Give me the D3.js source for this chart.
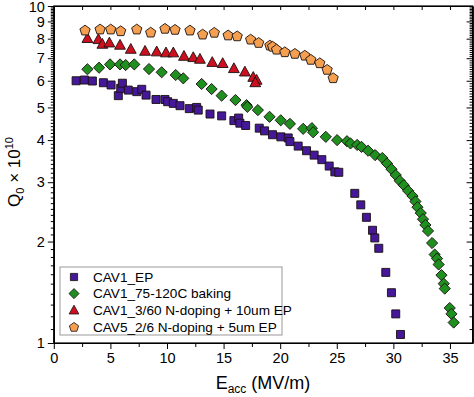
<!DOCTYPE html>
<html><head><meta charset="utf-8">
<script src="https://cdn.jsdelivr.net/npm/d3@7"></script>
<style>body{margin:0;background:#fff;} svg{display:block;font-family:"Liberation Sans",Arial,sans-serif;}</style>
</head><body><svg id="c" width="474" height="397"></svg>
<script>
// Data: [Eacc (MV/m), Q0 (x1e10)]
const cav1EP = [[1.97,6.0],[2.7,6.03],[3.41,5.99],[4.38,5.92],[5.06,5.83],[5.7,5.42],[5.91,5.70],[6.06,5.9],[6.58,5.63],[7.33,5.57],[7.77,5.66],[8.15,5.44],[9.03,5.28],[9.82,5.28],[10.06,5.2],[10.56,5.14],[11.15,5.06],[11.97,4.96],[12.62,5.0],[12.76,4.91],[13.8,4.78],[14.83,4.72],[15.91,4.57],[16.33,4.65],[16.44,4.49],[16.95,4.42],[18.15,4.34],[18.62,4.26],[19.32,4.15],[20.06,4.09],[20.71,4.06],[20.86,3.96],[21.59,3.84],[22.33,3.72],[23.0,3.61],[23.68,3.5],[24.33,3.35],[24.83,3.22],[25.18,3.21],[26.59,2.78],[27.12,2.57],[27.62,2.36],[28.16,2.16],[28.36,2.05],[28.71,1.91],[29.33,1.62],[29.83,1.41],[30.21,1.22],[30.63,1.06]];
const cav1Bake = [[2.97,6.49],[4.0,6.56],[4.97,6.71],[5.85,6.71],[6.35,6.68],[7.11,6.71],[8.41,6.5],[9.53,6.36],[10.77,6.24],[11.44,6.1],[13.06,5.87],[13.94,5.67],[14.83,5.42],[16.05,5.26],[17.03,5.08],[17.1,5.02],[18.03,4.91],[19.06,4.69],[20.05,4.58],[20.86,4.47],[22.03,4.32],[22.8,4.34],[22.91,4.22],[24.03,4.09],[25.03,4.0],[25.9,3.97],[26.21,3.91],[26.8,3.87],[27.18,3.82],[27.77,3.72],[28.39,3.61],[29.02,3.54],[29.44,3.41],[29.83,3.28],[30.21,3.15],[30.56,3.03],[30.92,2.94],[31.3,2.83],[31.69,2.73],[31.95,2.63],[32.13,2.53],[32.42,2.43],[32.62,2.33],[32.83,2.24],[33.06,2.15],[33.42,1.98],[33.65,1.83],[33.86,1.78],[34.0,1.71],[34.25,1.59],[34.45,1.50],[34.54,1.45],[34.98,1.27],[35.13,1.22],[35.33,1.15]];
const cav1Ndope = [[2.97,8.02],[3.94,7.96],[4.29,7.71],[4.91,7.78],[5.85,7.66],[6.8,7.45],[8.06,7.35],[9.09,7.32],[9.91,7.27],[10.56,7.27],[11.5,7.1],[12.32,7.04],[12.91,6.96],[14.0,6.81],[14.92,6.76],[15.91,6.53],[16.88,6.38],[17.62,6.15],[17.92,6.03],[17.8,5.93]];
const cav5Ndope = [[2.76,8.49],[4.09,8.55],[5.03,8.55],[5.91,8.45],[7.33,8.55],[8.56,8.37],[9.82,8.59],[10.71,8.53],[12.03,8.49],[13.15,8.26],[14.18,8.36],[15.4,8.21],[16.2,8.16],[17.39,7.98],[18.1,7.8],[19.09,7.66],[19.33,7.6],[19.68,7.45],[20.41,7.32],[21.3,7.24],[22.18,7.15],[22.71,6.95],[23.5,6.79],[24.15,6.49],[24.68,6.13]];
const seriesNames = ["CAV1_EP","CAV1_75-120C baking","CAV1_3/60 N-doping + 10um EP","CAV5_2/6 N-doping + 5um EP"];
const seriesColors = ["#45189a","#1f8f1f","#cc1020","#f5a050"];
const seriesShapes = ["square","diamond","triangle","pentagon"];
const xTicks = [0,5,10,15,20,25,30,35];
const yTicks = [1,2,3,4,5,6,7,8,9,10];

const svg = d3.select("#c");
const L=53.8, R=472.6, T=6, B=343;
const x = d3.scaleLinear().domain([0,37]).range([L,R]);
const y = d3.scaleLog().domain([1,10]).range([B,T]);

function shapePath(kind){
  if(kind==="square") return "M-4,-4H4V4H-4Z";
  if(kind==="diamond") return "M0,-5.6L5.6,0L0,5.6L-5.6,0Z";
  if(kind==="triangle") return "M0,-5.6L5.4,4.2L-5.4,4.2Z";
  const pts=d3.range(5).map(i=>{const a=-Math.PI/2+i*2*Math.PI/5;return [5.4*Math.cos(a),5.4*Math.sin(a)+0.6];});
  return d3.line()(pts)+"Z";
}

// frame
svg.append("rect").attr("x",L).attr("y",T).attr("width",R-L).attr("height",B-T).attr("fill","none").attr("stroke","#000").attr("stroke-width",1.2);

// axes
const minorY=[];
for(let d=1; d<10; d++){ for(let k=1;k<10;k++){ minorY.push(+(d+k*0.1).toFixed(2)); } }
const minorYv = minorY.filter(v=>v<10 && !yTicks.includes(v));
function minor(g){ g.selectAll(".tick text").remove(); }
svg.append("g").attr("transform",`translate(0,${B})`)
  .call(d3.axisBottom(x).tickValues(xTicks).tickSize(6).tickSizeOuter(0).tickPadding(4));
svg.append("g").attr("transform",`translate(0,${B})`)
  .call(d3.axisBottom(x).tickValues(d3.range(2.5,37,5)).tickSize(4).tickFormat("").tickSizeOuter(0)).call(minor);
const gL = svg.append("g").attr("transform",`translate(${L},0)`)
  .call(d3.axisLeft(y).tickValues(yTicks).tickFormat(d3.format("d")).tickSize(6).tickSizeOuter(0).tickPadding(3));
svg.append("g").attr("transform",`translate(${L},0)`)
  .call(d3.axisLeft(y).tickValues(minorYv).tickFormat("").tickSize(3).tickSizeOuter(0)).call(minor);
// mirrored inner ticks
svg.append("g").attr("transform",`translate(0,${T})`)
  .call(d3.axisBottom(x).tickValues(d3.range(0,37,2.5)).tickFormat("").tickSize(4).tickSizeOuter(0)).call(minor);
svg.append("g").attr("transform",`translate(${R},0)`)
  .call(d3.axisLeft(y).tickValues(yTicks).tickFormat("").tickSize(6).tickSizeOuter(0)).call(minor);
svg.append("g").attr("transform",`translate(${R},0)`)
  .call(d3.axisLeft(y).tickValues(minorYv).tickFormat("").tickSize(3).tickSizeOuter(0)).call(minor);
svg.selectAll(".domain").attr("stroke","#000").attr("stroke-width",1.2);
svg.selectAll(".tick line").attr("stroke","#000");
svg.selectAll(".tick text").attr("font-size",14.5).attr("fill","#000").attr("font-family","Liberation Sans, Arial, sans-serif");
gL.selectAll(".tick text").filter(d=>d===10).attr("dy","0.38em");

// axis titles
const xt = svg.append("text").attr("x",263).attr("y",389).attr("text-anchor","middle").attr("font-size",18).attr("fill","#000");
xt.append("tspan").text("E");
xt.append("tspan").attr("font-size",12).attr("dy",4).text("acc");
xt.append("tspan").attr("dy",-4).text(" (MV/m)");
const yt = svg.append("text").attr("transform","translate(20,172) rotate(-90)").attr("text-anchor","middle").attr("font-size",17).attr("fill","#000");
yt.append("tspan").text("Q");
yt.append("tspan").attr("font-size",11).attr("dy",4).text("0");
yt.append("tspan").attr("dy",-4).text(" × 10");
yt.append("tspan").attr("font-size",11).attr("dy",-7).text("10");

// data
const allSeries=[cav1EP,cav1Bake,cav1Ndope,cav5Ndope];
allSeries.forEach((data,i)=>{
  svg.append("g").selectAll("path").data(data).join("path")
    .attr("d",shapePath(seriesShapes[i]))
    .attr("transform",d=>`translate(${x(d[0])},${y(d[1])})`)
    .attr("fill",seriesColors[i]).attr("stroke","#1a1010").attr("stroke-width",0.9);
});

// legend
const lg = svg.append("g");
lg.append("rect").attr("x",60).attr("y",267).attr("width",222).attr("height",68).attr("fill","#fff").attr("stroke","#999").attr("stroke-width",1);
seriesNames.forEach((n,i)=>{
  const yy=277+i*16.6;
  lg.append("path").attr("d",shapePath(seriesShapes[i])).attr("transform",`translate(74,${yy}) scale(0.9)`)
    .attr("fill",seriesColors[i]).attr("stroke","#1a1010").attr("stroke-width",0.9);
  lg.append("text").attr("x",93).attr("y",yy+4.8).attr("font-size",13.6).attr("fill","#000").text(n);
});
</script></body></html>
